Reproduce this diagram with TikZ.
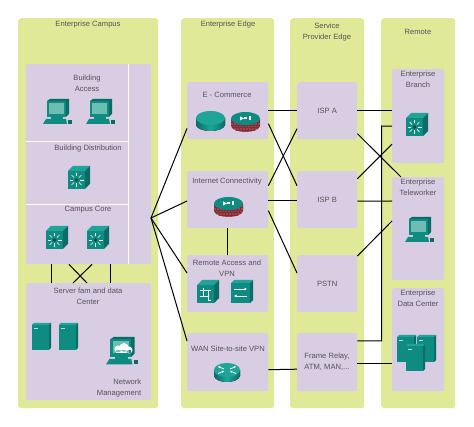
\documentclass[tikz,border=0pt]{standalone}
\usepackage{fontspec}
\setmainfont{Liberation Sans}
\usepackage{xcolor}
\usepackage{tikz}
\usetikzlibrary{arrows.meta}
\definecolor{panelgreen}{HTML}{E0E997}
\definecolor{blocklilac}{HTML}{D8CDE2}
\definecolor{labelgrey}{HTML}{55525A}
\definecolor{tealmid}{HTML}{0F8C82}
\definecolor{tealdark}{HTML}{0A6B68}
\definecolor{teallight}{HTML}{1FA598}
\definecolor{tealscreen}{HTML}{6DBDB3}
\definecolor{brickred}{HTML}{A8404A}
\definecolor{brickdark}{HTML}{7A3038}
\tikzset{
  switchicon/.pic={
    \fill[teallight] (0,5)--(5,0)--(22,0)--(17,5)--cycle;
    \fill[tealdark] (17,5)--(22,0)--(22,18)--(17,23)--cycle;
    \fill[tealmid] (0,5) rectangle (17,23);
    \foreach \a in {0,45,...,315}
      \draw[white,line width=.7pt] (8.5,14)++(\a:3.5)--++(\a:3.5);
    \fill[tealdark!70!black] (8.5,14) circle (1.8);
  },
  pcicon/.pic={
    \fill[tealdark] (4,2)--(7,0)--(26,0)--(26,15)--(23,18)--(4,18)--cycle;
    \fill[tealmid] (4,2) rectangle (23,18);
    \fill[tealscreen] (6,4) rectangle (21,15);
    \fill[tealmid] (8,18) rectangle (20,20);
    \fill[tealmid] (3,20)--(23,20)--(24,25)--(0,25)--cycle;
    \fill[tealdark] (25,21) rectangle (29,25);
  },
  servericon/.pic={
    \fill[teallight] (0,2)--(2,0)--(19,0)--(17,2)--cycle;
    \fill[tealdark] (17,2)--(19,0)--(19,25)--(17,27)--cycle;
    \fill[tealmid] (0,2) rectangle (17,27);
    \fill[white!70!tealmid] (2,5) rectangle (6,6.2);
  },
  diskicon/.pic={
    \fill[left color=tealdark,right color=tealdark,middle color=teallight]
      (0,7)--(0,14) .. controls (2,22) and (27,22) .. (29,14)--(29,7)--cycle;
    \fill[teallight] (14.5,7) ellipse [x radius=14.5,y radius=7];
  },
  firewallicon/.pic={
    \fill[brickred] (0,7)--(0,14) .. controls (2,22) and (27,22) .. (29,14)--(29,7)--cycle;
    \begin{scope}
      \clip (0,7)--(0,14) .. controls (2,22) and (27,22) .. (29,14)--(29,7)--cycle;
      \foreach \r in {8,10.5,13,15.5,18}
        \draw[brickdark,line width=.4pt] (0,\r)--(29,\r);
      \foreach \c in {1,4,...,28}
        \draw[brickdark,line width=.4pt] (\c,8)--(\c,10.5) (\c+1.5,10.5)--(\c+1.5,13) (\c,13)--(\c,15.5) (\c+1.5,15.5)--(\c+1.5,18);
    \end{scope}
    \fill[tealmid] (14.5,6.5) ellipse [x radius=14.5,y radius=6.5];
    \fill[white] (9,4.5)--(13,6.5)--(9,8.5)--cycle;
    \fill[white] (13,5.5) rectangle (16,7.5);
    \fill[white] (18,4.5) rectangle (20,8.5);
  },
  routericon/.pic={
    \fill[left color=tealdark,right color=tealdark,middle color=teallight]
      (0,7)--(0,13) .. controls (2,21) and (24,21) .. (26,13)--(26,7)--cycle;
    \fill[teallight] (13,7) ellipse [x radius=13,y radius=7];
    \draw[white,line width=.8pt,-{Latex[length=2pt,width=2.5pt]}] (10,6)--(4,3.5);
    \draw[white,line width=.8pt,-{Latex[length=2pt,width=2.5pt]}] (16,6)--(22,3.5);
    \draw[white,line width=.8pt,{Latex[length=2pt,width=2.5pt]}-] (10,8)--(4,10.5);
    \draw[white,line width=.8pt,{Latex[length=2pt,width=2.5pt]}-] (16,8)--(22,10.5);
  },
  atmicon/.pic={
    \fill[teallight] (0,5)--(5,0)--(22,0)--(17,5)--cycle;
    \fill[tealdark] (17,5)--(22,0)--(22,18)--(17,23)--cycle;
    \fill[tealmid] (0,5) rectangle (17,23);
    \draw[white,line width=.7pt] (3,10)--(14,10) (6,8)--(6,16)--(3,16) (11,10)--(11,20)--(14,20) (6,16)--(11,16);
  },
  workgroupicon/.pic={
    \fill[teallight] (0,3)--(3,0)--(22,0)--(19,3)--cycle;
    \fill[tealdark] (19,3)--(22,0)--(22,20)--(19,23)--cycle;
    \fill[tealmid] (0,3) rectangle (19,23);
    \draw[white,line width=.8pt,-{Latex[length=2.5pt,width=3pt]}] (3,9)--(16,9);
    \draw[white,line width=.8pt,{Latex[length=2.5pt,width=3pt]}-] (3,16)--(16,16);
  }
}
\begin{document}
\begin{tikzpicture}[
  x=1pt,y=-1pt,
  panel/.style={fill=panelgreen,rounded corners=3pt,anchor=north west,inner sep=0pt},
  block/.style={fill=blocklilac,rounded corners=2pt,anchor=north west,inner sep=0pt},
  lbl/.style={font=\fontsize{7.6}{11}\selectfont,text=labelgrey,align=center,inner sep=0pt},
  link/.style={draw=black,line width=1pt},
  divider/.style={draw=white,line width=1pt}
]
\useasboundingbox (0,0) rectangle (474,427);
% columns
\node[panel,minimum width=140pt,minimum height=390pt] (campus) at (18,18) {};
\node[panel,minimum width=93pt,minimum height=390pt] (edge) at (181,18) {};
\node[panel,minimum width=74pt,minimum height=390pt] (provider) at (290,18) {};
\node[panel,minimum width=74pt,minimum height=390pt] (remote) at (381,18) {};
% blocks
\node[block,minimum width=125pt,minimum height=200pt] (building) at (26,64) {};
\node[block,minimum width=125pt,minimum height=117pt] (server) at (26,283) {};
\node[block,minimum width=81pt,minimum height=57pt] (ecommerce) at (187,82) {};
\node[block,minimum width=81pt,minimum height=57pt] (internet) at (187,171) {};
\node[block,minimum width=81pt,minimum height=57pt] (vpn) at (187,255) {};
\node[block,minimum width=81pt,minimum height=58pt] (wan) at (187,333) {};
\node[block,minimum width=60pt,minimum height=57pt] (ispa) at (297,82) {};
\node[block,minimum width=60pt,minimum height=57pt] (ispb) at (297,171) {};
\node[block,minimum width=60pt,minimum height=57pt] (pstn) at (297,255) {};
\node[block,minimum width=60pt,minimum height=58pt] (frame) at (297,333) {};
\node[block,minimum width=52pt,minimum height=94pt] (branch) at (392,69) {};
\node[block,minimum width=52pt,minimum height=103pt] (teleworker) at (392,177) {};
\node[block,minimum width=52pt,minimum height=103pt] (datacenter) at (392,288) {};
\draw[divider] ([xshift=102pt]building.north west)--([xshift=102pt]building.south west);
\draw[divider] ([yshift=-78pt]building.north west)--([xshift=102pt,yshift=-78pt]building.north west);
\draw[divider] ([yshift=-141pt]building.north west)--([xshift=102pt,yshift=-141pt]building.north west);
\coordinate (hub) at (151,218);
% links
\draw[link] ([xshift=25pt]building.south west)--([xshift=25pt]server.north west);
\draw[link] ([xshift=84pt]building.south west)--([xshift=84pt]server.north west);
\draw[link] ([xshift=43pt]building.south west)--([xshift=61pt]server.north west);
\draw[link] ([xshift=66pt]building.south west)--([xshift=47pt]server.north west);
\draw[link] (hub)--([yshift=11pt]ecommerce.south west);
\draw[link] (hub)--([yshift=-30pt]internet.north west);
\draw[link] (hub)--([yshift=-18pt]vpn.north west);
\draw[link] (hub)--([yshift=-8pt]wan.north west);
\draw[link] (ecommerce.east)--(ispa.west);
\draw[link] ([yshift=-13pt]ecommerce.east)--([yshift=14pt]ispb.west);
\draw[link] ([yshift=14pt]internet.east)--([yshift=-18pt]ispa.west);
\draw[link] ([yshift=-1pt]internet.east)--([yshift=-1pt]ispb.west);
\draw[link] (internet.south)--(vpn.north);
\draw[link] ([yshift=-11pt]internet.east)--([yshift=-18pt]pstn.north west);
\draw[link] ([yshift=-7.5pt]wan.east)--([yshift=-7pt]frame.west);
\draw[link] (ispa.east)--([yshift=5.5pt]branch.west);
\draw[link] ([yshift=-23pt]ispa.east)--([xshift=9pt]teleworker.north west);
\draw[link] ([yshift=21pt]ispb.east)--([yshift=-28pt]branch.west);
\draw[link] ([yshift=-1.5pt]ispb.east)--([yshift=-24pt]teleworker.north west);
\draw[link] ([yshift=-1pt]pstn.north east)--([yshift=-44pt]teleworker.north west);
\draw[link] ([yshift=-8pt]frame.north east)-|(381.5,126)--([yshift=-10pt]branch.west);
\draw[link] ([yshift=-31pt]frame.north east)--([yshift=-76pt]datacenter.north west);
% labels
\node[lbl] (campuslbl) at (88,25) {Enterprise Campus};
\node[lbl] (accesslbl) at (87,83) {Building\\Access};
\node[lbl] (distlbl) at (88,149) {Building Distribution};
\node[lbl] (corelbl) at (88,210) {Campus Core};
\node[lbl] (serverlbl) at (88,296.5) {Server fam and data\\Center};
\node[lbl,align=right,anchor=east] (netlbl) at (141.5,388.5) {Network\\Management};
\node[lbl] (edgelbl) at (228,25) {Enterprise Edge};
\node[lbl] (ecomlbl) at (227,95) {E - Commerce};
\node[lbl] (netconlbl) at (227,182) {Internet Connectivity};
\node[lbl] (vpnlbl) at (227,268.5) {Remote Access and\\VPN};
\node[lbl] (wanlbl) at (228,349) {WAN Site-to-site VPN};
\node[lbl] (providerlbl) at (327,32.5) {Service\\Provider Edge};
\node[lbl] (remotelbl) at (418,32) {Remote};
\node[lbl] (ispalbl) at (ispa.center) {ISP A};
\node[lbl] (ispblbl) at (ispb.center) {ISP B};
\node[lbl] (pstnlbl) at (pstn.center) {PSTN};
\node[lbl] (framelbl) at (327,361.5) {Frame Relay,\\ATM, MAN,...};
\node[lbl] (branchlbl) at (418,79.5) {Enterprise\\Branch};
\node[lbl] (telelbl) at (418,187.5) {Enterprise\\Teleworker};
\node[lbl] (dclbl) at (418,298.5) {Enterprise\\Data Center};
% icons
\pic at (43,99) {pcicon};
\pic at (86,99) {pcicon};
\pic at (68,166) {switchicon};
\pic at (46,226) {switchicon};
\pic at (87,226) {switchicon};
\pic at (32,323) {servericon};
\pic at (59,323) {servericon};
\pic[scale=1.1] at (106,337) {pcicon};
\fill[white] (118,349) circle (3.5) (124,347.5) circle (4.5) (129,350) circle (3.5) (116,350) rectangle (131,353);
\pic at (196,111) {diskicon};
\pic at (231,112) {firewallicon};
\pic at (214,197) {firewallicon};
\pic at (197,280) {atmicon};
\pic at (231,280) {workgroupicon};
\pic at (214,363) {routericon};
\pic at (406,113) {switchicon};
\pic at (405,217) {pcicon};
\pic at (417,335) {servericon};
\pic at (397,335) {servericon};
\pic at (406,344) {servericon};
\end{tikzpicture}
\end{document}
